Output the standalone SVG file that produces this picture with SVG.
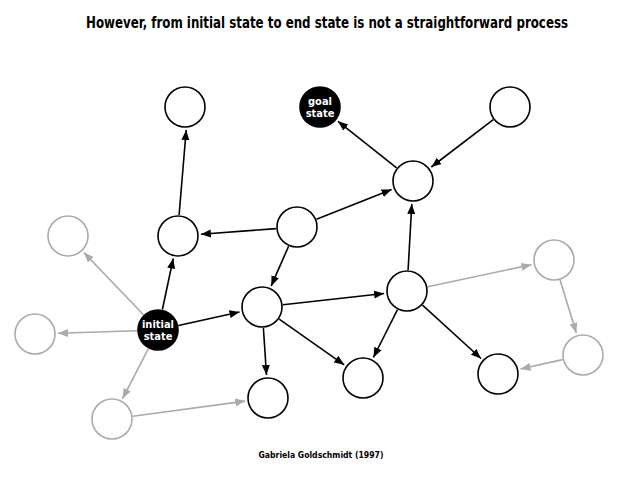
<svg xmlns="http://www.w3.org/2000/svg" width="638" height="479" viewBox="0 0 638 479">
<style>
.n{fill:#fff;stroke:#000;stroke-width:1.6}
.g{fill:#fff;stroke:#aaa;stroke-width:1.6}
.f{fill:#000;stroke:#000;stroke-width:1.6}
.e{stroke:#000;stroke-width:1.6;fill:none;marker-end:url(#ab)}
.eg{stroke:#aaa;stroke-width:1.6;fill:none;marker-end:url(#ag)}
.t{font-family:"DejaVu Sans Condensed","DejaVu Sans",sans-serif;font-weight:bold;font-stretch:condensed}
.w{fill:#fff;font-size:11px;text-anchor:middle}
</style>
<defs>
<marker id="ab" viewBox="0 0 10 10" refX="10" refY="5" markerWidth="10" markerHeight="10" markerUnits="userSpaceOnUse" orient="auto"><path d="M0,1 L10,5 L0,9 z" fill="#000"/></marker>
<marker id="ag" viewBox="0 0 10 10" refX="10" refY="5" markerWidth="10" markerHeight="10" markerUnits="userSpaceOnUse" orient="auto"><path d="M0,1 L10,5 L0,9 z" fill="#aaa"/></marker>
</defs>
<rect width="638" height="479" fill="#fff"/>
<text class="t" x="327" y="28" font-size="16" text-anchor="middle" textLength="482" lengthAdjust="spacingAndGlyphs">However, from initial state to end state is not a straightforward process</text>
<text class="t" x="321" y="458" font-size="9" text-anchor="middle" textLength="125" lengthAdjust="spacingAndGlyphs">Gabriela Goldschmidt (1997)</text>
<g id="edges">
<line class="e" x1="179.1" y1="215" x2="186.2" y2="130"/>
<line class="e" x1="162.4" y1="309.5" x2="173.2" y2="258.5"/>
<line class="e" x1="276" y1="228.6" x2="200.9" y2="234.3"/>
<line class="e" x1="288.6" y1="246.2" x2="271.2" y2="285.9"/>
<line class="e" x1="316.5" y1="219.3" x2="391.6" y2="189.5"/>
<line class="e" x1="396.6" y1="167.9" x2="338" y2="121.3"/>
<line class="e" x1="493.3" y1="119.7" x2="431.3" y2="167"/>
<line class="e" x1="178.5" y1="325.5" x2="239.5" y2="312"/>
<line class="e" x1="282.9" y1="304.7" x2="384.1" y2="293.5"/>
<line class="e" x1="263.4" y1="328" x2="266.5" y2="375"/>
<line class="e" x1="279.2" y1="319.1" x2="344.2" y2="364.8"/>
<line class="e" x1="408.1" y1="270" x2="411.8" y2="204"/>
<line class="e" x1="397.5" y1="309.7" x2="373.4" y2="357.5"/>
<line class="e" x1="422.5" y1="305.2" x2="481" y2="358.5"/>
<line class="eg" x1="143.5" y1="314.8" x2="83.9" y2="252.6"/>
<line class="eg" x1="137" y1="330.7" x2="58" y2="333.3"/>
<line class="eg" x1="148.4" y1="348.6" x2="122.6" y2="398.6"/>
<line class="eg" x1="132.8" y1="416.2" x2="245.2" y2="401.1"/>
<line class="eg" x1="427.6" y1="286.7" x2="531.5" y2="264.7"/>
<line class="eg" x1="560.1" y1="280.1" x2="576.3" y2="333"/>
<line class="eg" x1="562.5" y1="359.6" x2="520.5" y2="369"/>
</g>
<g id="A"><circle class="n" cx="185" cy="107" r="20"/></g>
<g id="goal"><circle class="f" cx="320" cy="107" r="20"/><text class="t w" x="320" y="105">goal</text><text class="t w" x="320" y="117">state</text></g>
<g id="B"><circle class="n" cx="510" cy="107" r="20"/></g>
<g id="C"><circle class="n" cx="413" cy="181" r="20"/></g>
<g id="D"><circle class="n" cx="297" cy="227" r="20"/></g>
<g id="E"><circle class="n" cx="178" cy="236" r="20"/></g>
<g id="F"><circle class="g" cx="68" cy="236" r="20"/></g>
<g id="G"><circle class="g" cx="554" cy="260" r="20"/></g>
<g id="init"><circle class="f" cx="158" cy="330" r="20"/><text class="t w" x="158" y="328">initial</text><text class="t w" x="158" y="340">state</text></g>
<g id="H"><circle class="n" cx="262" cy="307" r="20"/></g>
<g id="I"><circle class="n" cx="407" cy="291" r="20"/></g>
<g id="J"><circle class="g" cx="35" cy="334" r="20"/></g>
<g id="K"><circle class="g" cx="583" cy="355" r="20"/></g>
<g id="L"><circle class="n" cx="363" cy="378" r="20"/></g>
<g id="M"><circle class="n" cx="498" cy="374" r="20"/></g>
<g id="N"><circle class="n" cx="268" cy="398" r="20"/></g>
<g id="O"><circle class="g" cx="112" cy="419" r="20"/></g>
</svg>
